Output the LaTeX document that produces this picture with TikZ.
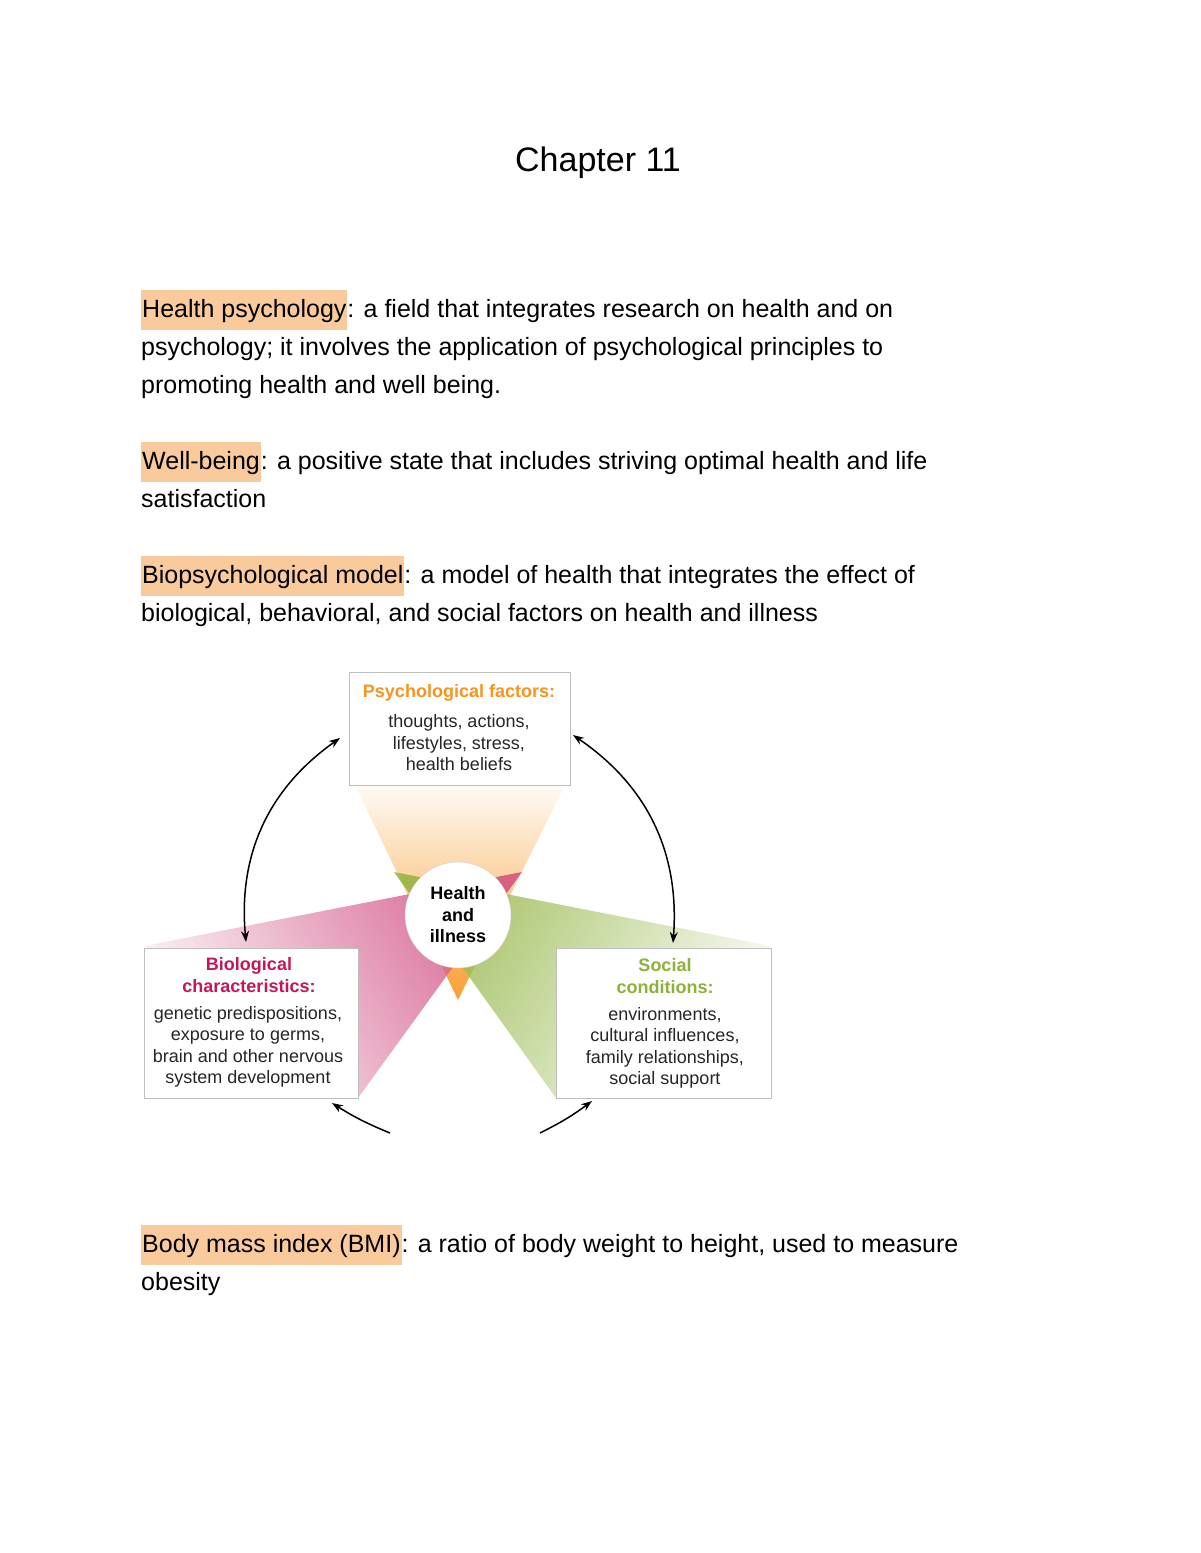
\documentclass[tikz,border=0pt]{standalone}
\usepackage{fontspec}
\setmainfont{Liberation Sans}
\usetikzlibrary{arrows.meta}
\definecolor{hlc}{HTML}{F9CB9C}
\definecolor{orng}{HTML}{F7941D}
\definecolor{pnk}{HTML}{C2185B}
\definecolor{grn}{HTML}{8DB13A}
\newcommand{\hlt}[1]{{\setlength{\fboxsep}{1pt}\colorbox{hlc}{\strut #1}}}
\begin{document}
\begin{tikzpicture}[x=1pt,y=-1pt,
 para/.style={anchor=north west,align=left,font=\fontsize{25}{38}\selectfont,inner sep=0pt},
 fbox/.style={draw=black!25,fill=white,line width=1pt,align=center,font=\fontsize{18}{21.5}\selectfont,text=black!85},
 arr/.style={-{Stealth[length=11pt,width=8pt]},line width=1.5pt},
 darr/.style={{Stealth[length=11pt,width=8pt]}-{Stealth[length=11pt,width=8pt]},line width=1.5pt}]
\useasboundingbox (0,0) rectangle (1200,1553);
\node (title) at (598,163) {\fontsize{34}{40}\selectfont Chapter 11};
\node[para] (p1) at (141,290) {\hlt{Health psychology}: a field that integrates research on health and on\\psychology; it involves the application of psychological principles to\\promoting health and well being.};
\node[para] (p2) at (141,442) {\hlt{Well-being}: a positive state that includes striving optimal health and life\\satisfaction};
\node[para] (p3) at (141,556) {\hlt{Biopsychological model}: a model of health that integrates the effect of\\biological, behavioral, and social factors on health and illness};
\node[para] (p4) at (141,1225) {\hlt{Body mass index (BMI)}: a ratio of body weight to height, used to measure\\obesity};
\shade[top color=orng!5,bottom color=orng,fill opacity=0.9] (355,785) -- (565,785) -- (458,1000) -- cycle;
\shade[left color=pnk!5,right color=pnk!80,shading angle=120,fill opacity=0.8] (144,946) -- (358,1098) -- (522,872) -- cycle;
\shade[right color=grn!5,left color=grn,shading angle=60,fill opacity=0.8] (771,946) -- (556,1098) -- (394,872) -- cycle;
\node[fbox,minimum width=221pt,minimum height=113pt] (psy) at (459.5,728.5) {};
\node[align=center,font=\fontsize{18}{21.5}\selectfont\bfseries,text=orng] (psyh) at (459,693) {Psychological factors:};
\node[align=center,font=\fontsize{18}{21.5}\selectfont,text=black!85] (psyt) at (459,743) {thoughts, actions,\\lifestyles, stress,\\health beliefs};
\node[fbox,minimum width=214pt,minimum height=150pt] (bio) at (251,1023) {};
\node[align=center,font=\fontsize{18}{21.5}\selectfont\bfseries,text=pnk] (bioh) at (249,975) {Biological\\characteristics:};
\node[align=center,font=\fontsize{18}{21.5}\selectfont,text=black!85] (biot) at (248,1047) {genetic predispositions,\\exposure to germs,\\brain and other nervous\\system development};
\node[fbox,minimum width=215pt,minimum height=150pt] (soc) at (663.5,1023) {};
\node[align=center,font=\fontsize{18}{21.5}\selectfont\bfseries,text=grn] (soch) at (665,976) {Social\\conditions:};
\node[align=center,font=\fontsize{18}{21.5}\selectfont,text=black!85] (soct) at (665,1048) {environments,\\cultural influences,\\family relationships,\\social support};
\node[circle,draw=black!20,fill=white,minimum size=106pt,align=center,inner sep=0pt,font=\fontsize{18}{21.5}\selectfont\bfseries] (hi) at (458,915) {Health\\and\\illness};
\coordinate (a1) at (340,738); \coordinate (a2) at (246,942);
\coordinate (b1) at (573,735); \coordinate (b2) at (673,943);
\coordinate (c1) at (390,1133); \coordinate (c2) at (332,1103);
\coordinate (d1) at (540,1133); \coordinate (d2) at (592,1101);
\draw[darr] (a1) to[bend right=30] (a2);
\draw[darr] (b1) to[bend left=30] (b2);
\draw[arr] (c1) to[bend left=5] (c2);
\draw[arr] (d1) to[bend right=5] (d2);
\end{tikzpicture}
\end{document}
